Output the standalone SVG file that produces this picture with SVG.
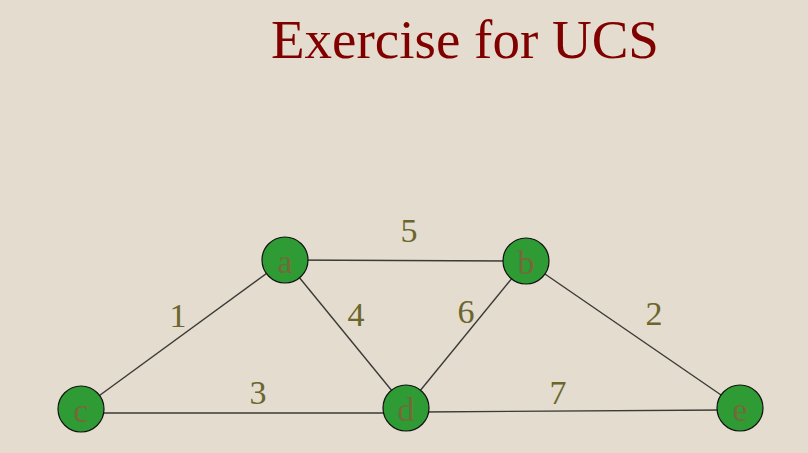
<svg xmlns="http://www.w3.org/2000/svg" width="808" height="453" viewBox="0 0 808 453">
<style>
.title{font-family:"Liberation Serif","Times New Roman",serif;font-size:55px;fill:#800000}
.edge{stroke:#3a3a36;stroke-width:1.4;fill:none}
.wt{font-family:"Liberation Serif","Times New Roman",serif;font-size:34px;fill:#6a662c;text-anchor:middle}
.node circle{fill:#2e9b34;stroke:#111;stroke-width:1.2}
.node text{font-family:"Liberation Serif","Times New Roman",serif;font-size:34px;fill:#736a3a;text-anchor:middle}
</style>
<rect width="808" height="453" fill="#e4dccf"/>
<text class="title" x="271" y="58">Exercise for UCS</text>
<g id="connectors">
<line class="edge" x1="285" y1="260" x2="526" y2="261"/>
<line class="edge" x1="81" y1="409" x2="285" y2="260"/>
<line class="edge" x1="285" y1="260" x2="406" y2="408"/>
<line class="edge" x1="526" y1="261" x2="406" y2="408"/>
<line class="edge" x1="526" y1="261" x2="740" y2="408"/>
<line class="edge" x1="100" y1="413" x2="390" y2="413"/>
<line class="edge" x1="420" y1="412" x2="725" y2="410"/>
<text class="wt" x="409" y="242">5</text>
<text class="wt" x="178" y="327">1</text>
<text class="wt" x="356" y="326">4</text>
<text class="wt" x="466" y="323">6</text>
<text class="wt" x="654" y="325">2</text>
<text class="wt" x="258" y="404">3</text>
<text class="wt" x="558" y="404">7</text>
</g>
<g id="node-a" class="node"><circle cx="285" cy="260" r="23"/><text x="285" y="273">a</text></g>
<g id="node-b" class="node"><circle cx="526" cy="261" r="23"/><text x="526" y="274">b</text></g>
<g id="node-c" class="node"><circle cx="81" cy="409" r="23"/><text x="81" y="422">c</text></g>
<g id="node-d" class="node"><circle cx="406" cy="408" r="23"/><text x="406" y="421">d</text></g>
<g id="node-e" class="node"><circle cx="740" cy="408" r="23"/><text x="740" y="421">e</text></g>
</svg>
